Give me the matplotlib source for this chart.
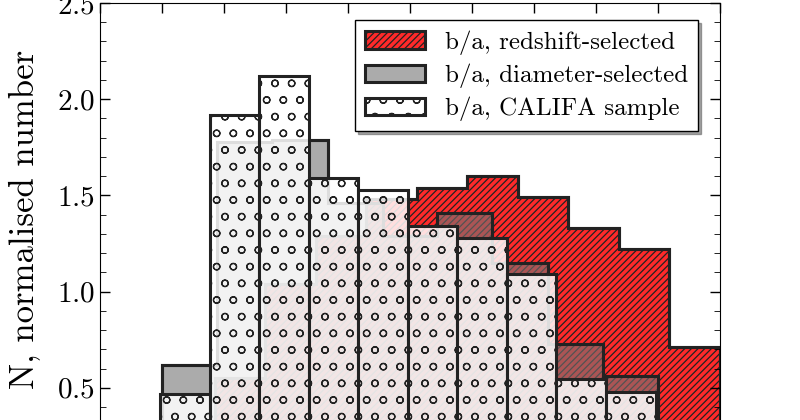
import matplotlib
matplotlib.use("Agg")
import matplotlib.pyplot as plt
import numpy as np

plt.rcParams["font.family"] = "serif"
plt.rcParams["font.serif"] = ["cmr10", "DejaVu Serif"]
plt.rcParams["mathtext.fontset"] = "cm"
plt.rcParams["axes.formatter.use_mathtext"] = True
plt.rcParams["hatch.linewidth"] = 0.9

# b/a histograms (normalised)
red_edges = [0.1035, 0.185, 0.2665, 0.348, 0.4295, 0.511, 0.5925, 0.674, 0.7555, 0.837, 0.9185, 1.0]
red_vals = [0.30, 0.55, 1.04, 1.29, 1.48, 1.54, 1.60, 1.49, 1.33, 1.22, 0.71]

gray_edges = [0.100, 0.189, 0.278, 0.367, 0.456, 0.544, 0.633, 0.722, 0.811, 0.900]
gray_vals = [0.62, 1.78, 1.79, 1.46, 1.29, 1.41, 1.15, 0.73, 0.56]

cal_edges = [0.097, 0.177, 0.257, 0.337, 0.416, 0.496, 0.576, 0.656, 0.736, 0.816, 0.896]
cal_vals = [0.47, 1.92, 2.12, 1.59, 1.53, 1.34, 1.28, 1.09, 0.545, 0.48]

fig = plt.figure(figsize=(8.0, 4.2), dpi=100)
ax = fig.add_axes([0.125, -64 / 420, 0.775, 481 / 420])

ax.stairs(red_vals, red_edges, fill=True, facecolor="#ff2a2a", edgecolor="#222222",
          hatch="/////", linewidth=2.2, label="b/a, redshift-selected")
ax.stairs(red_vals, red_edges, fill=False, edgecolor="#222222", linewidth=2.2)
ax.stairs(gray_vals, gray_edges, fill=True, facecolor=(0.45, 0.45, 0.45, 0.6),
          edgecolor="#222222", linewidth=2.2, label="b/a, diameter-selected")
ax.stairs(gray_vals, gray_edges, fill=False, edgecolor="#222222", linewidth=2.2)
e = np.asarray(cal_edges)
ax.bar(e[:-1], cal_vals, width=np.diff(e), align="edge", linewidth=2.2,
       facecolor=(1, 1, 1, 0.85), edgecolor="#222222", hatch="o", label="b/a, CALIFA sample")

ax.set_xlim(0, 1)
ax.set_ylim(0, 2.5)
ax.set_xticks(np.arange(0, 1.01, 0.1))
ax.set_yticks(np.arange(0.5, 2.51, 0.5))
ax.set_yticks(np.arange(0, 2.51, 0.1), minor=True)
ax.tick_params(direction="in", top=True, right=True, labelsize=21, length=7, width=1,
               labelbottom=False)
ax.tick_params(which="minor", direction="in", right=True, length=4)
ax.set_ylabel("N, normalised number", fontsize=25)
ax.yaxis.set_label_coords(-0.095, 0.55)

leg = ax.legend(loc="upper right", fontsize=18, shadow=True, fancybox=False,
                framealpha=1, borderpad=0.4, handlelength=2.4, labelspacing=0.35,
                bbox_to_anchor=(0.985, 0.99))
leg.get_frame().set_edgecolor("black")

fig.savefig("out.png", dpi=100)
